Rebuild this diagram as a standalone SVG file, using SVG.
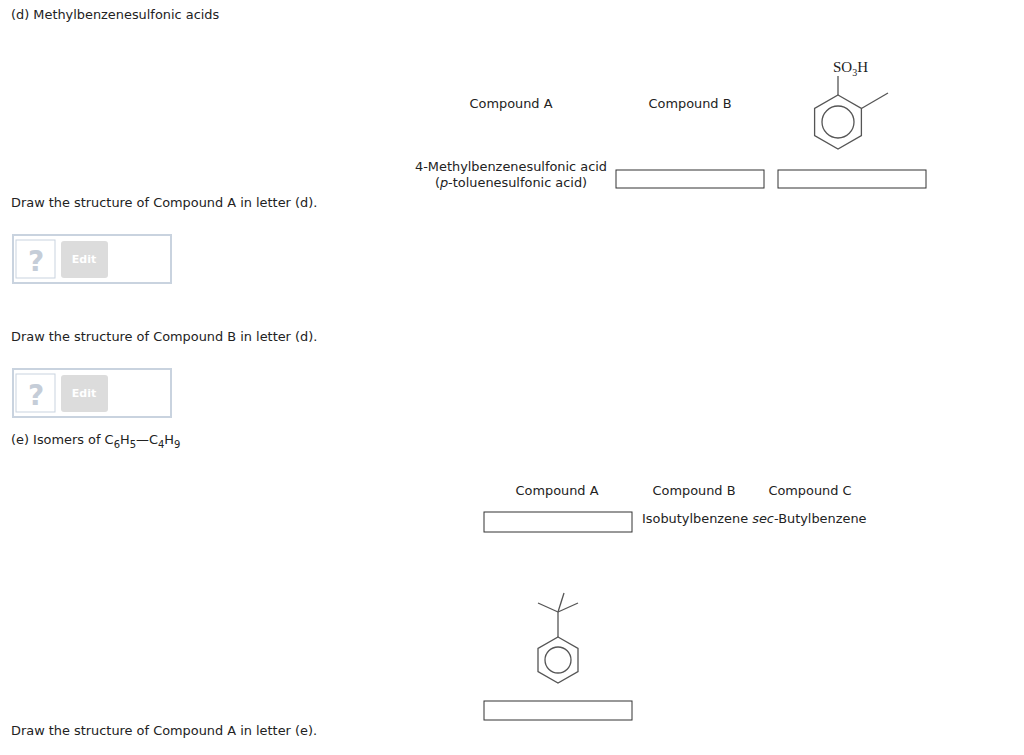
<svg xmlns="http://www.w3.org/2000/svg" width="1024" height="755" viewBox="0 0 1024 755">
<style>
text{font-family:Verdana,"DejaVu Sans",sans-serif;font-size:12.9px;fill:#222}
.c{text-anchor:middle}
.box{fill:#fff;stroke:#333;stroke-width:1}
.mol{fill:none;stroke:#555;stroke-width:1.3}
.ed{fill:#fff;stroke:#c9d3df;stroke-width:2}
</style>
<rect width="1024" height="755" fill="#fff"/>
<text x="11" y="19">(d) Methylbenzenesulfonic acids</text>
<g id="hdrA"><text class="c" x="511" y="108">Compound A</text></g>
<g id="hdrB"><text class="c" x="690" y="108">Compound B</text></g>
<g id="mol1">
<polygon class="mol" points="838,95 861.4,108.5 861.4,135.5 838,149 814.6,135.5 814.6,108.5"/>
<circle class="mol" cx="838" cy="122" r="16"/>
<line class="mol" x1="838" y1="95" x2="838" y2="76"/>
<line class="mol" x1="861.4" y1="108.5" x2="888" y2="93"/>
<text x="833" y="72" style="font-family:'Liberation Serif',serif;font-size:15px">SO<tspan font-size="10" dy="4">3</tspan><tspan dy="-4">H</tspan></text>
</g>
<g id="tolu"><text class="c" x="511" y="171">4-Methylbenzenesulfonic acid</text><text class="c" x="511" y="187">(<tspan font-style="italic">p</tspan>-toluenesulfonic acid)</text></g>
<rect class="box" x="616" y="170" width="148" height="18"/>
<rect class="box" x="778" y="170" width="148" height="18"/>
<text x="11" y="207">Draw the structure of Compound A in letter (d).</text>
<g id="edit1">
<rect class="ed" x="13" y="235" width="158" height="48"/>
<rect x="16" y="240" width="39" height="38" fill="#fff" stroke="#c9d3df"/>
<text class="c" x="36" y="271" style="font-size:28px;font-weight:bold;fill:#c5cdd8;font-family:'DejaVu Sans',sans-serif">?</text>
<rect x="61" y="241" width="47" height="37" rx="3" fill="#dcdcdc"/>
<text class="c" x="84" y="263" style="font-size:11px;font-weight:bold;fill:#fff">Edit</text>
</g>
<text x="11" y="341">Draw the structure of Compound B in letter (d).</text>
<g id="edit2">
<rect class="ed" x="13" y="369" width="158" height="48"/>
<rect x="16" y="374" width="39" height="38" fill="#fff" stroke="#c9d3df"/>
<text class="c" x="36" y="405" style="font-size:28px;font-weight:bold;fill:#c5cdd8;font-family:'DejaVu Sans',sans-serif">?</text>
<rect x="61" y="375" width="47" height="37" rx="3" fill="#dcdcdc"/>
<text class="c" x="84" y="397" style="font-size:11px;font-weight:bold;fill:#fff">Edit</text>
</g>
<text x="11" y="444">(e) Isomers of C<tspan font-size="10" dy="4">6</tspan><tspan dy="-4">H</tspan><tspan font-size="10" dy="4">5</tspan><tspan dy="-4">—C</tspan><tspan font-size="10" dy="4">4</tspan><tspan dy="-4">H</tspan><tspan font-size="10" dy="4">9</tspan></text>
<g id="eA"><text class="c" x="557" y="495">Compound A</text></g>
<g id="eB"><text class="c" x="694" y="495">Compound B</text></g>
<g id="eC"><text class="c" x="810" y="495">Compound C</text></g>
<rect class="box" x="484" y="512" width="148" height="20"/>
<text x="642" y="523">Isobutylbenzene <tspan font-style="italic">sec</tspan>-Butylbenzene</text>
<g id="mol2">
<polygon class="mol" points="558,637 578,648.5 578,671.5 558,683 538,671.5 538,648.5"/>
<circle class="mol" cx="558" cy="660" r="13"/>
<line class="mol" x1="558" y1="637" x2="558" y2="612"/>
<line class="mol" x1="558" y1="612" x2="538" y2="603"/>
<line class="mol" x1="558" y1="612" x2="578" y2="603"/>
<line class="mol" x1="558" y1="612" x2="564" y2="593"/>
</g>
<rect class="box" x="484" y="701" width="148" height="19"/>
<text x="11" y="735">Draw the structure of Compound A in letter (e).</text>
</svg>
